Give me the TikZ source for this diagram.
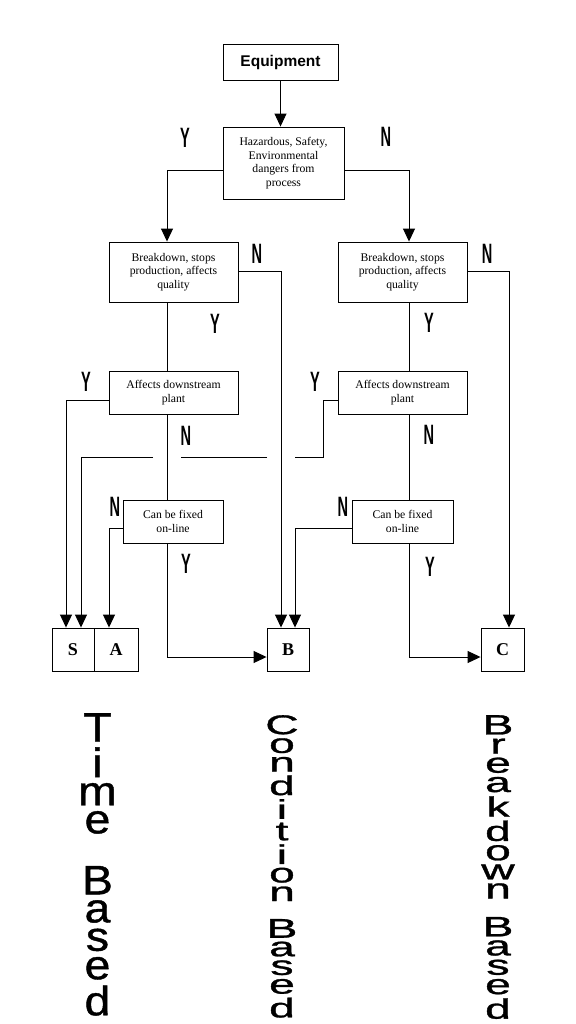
\documentclass[tikz,border=0pt]{standalone}
\usepackage{fontspec}
\usepackage{graphicx}
\setmainfont{Liberation Serif}
\newfontfamily\arialfont{Liberation Sans}
\newfontfamily\stackfont[FakeBold=1]{Liberation Sans}
\usetikzlibrary{arrows.meta}

\newcommand\yn[1]{\scalebox{0.52}[1]{#1}}
% letters one under the other, a fixed gap between them
\newcommand\stacked[1]{\vbox{\baselineskip=0pt\lineskip=6pt\lineskiplimit=0pt
  \halign{\hfil##\hfil\cr#1\crcr}}}

\begin{document}
\begin{tikzpicture}[x=1pt,y=-1pt,
  box/.style={draw,line width=0.9pt,align=center,inner sep=0pt,
    font=\fontsize{11.7}{13.5}\selectfont},
  tag/.style={box,minimum height=43pt,font=\bfseries\fontsize{18}{18}\selectfont},
  arr/.style={line width=1pt,-{Triangle[length=13pt,width=12pt]}},
  link/.style={line width=1pt},
  yn/.style={inner sep=0pt,font=\arialfont\bfseries\fontsize{28}{28}\selectfont},
  caption/.style={inner sep=0pt,anchor=north,font=\stackfont\fontsize{42}{42}\selectfont}]
  \useasboundingbox (0,0) rectangle (575,1024);

  % boxes
  \node[box,minimum width=115pt,minimum height=36pt,
    font=\arialfont\bfseries\fontsize{15.5}{18}\selectfont] (equip) at (280.5,62) {Equipment};
  \node[box,minimum width=121pt,minimum height=72pt] (hazard) at (283.5,163)
    {Hazardous, Safety,\\Environmental\\dangers from\\process};
  \node[box,minimum width=129pt,minimum height=60pt] (stopL) at (173.5,272)
    {Breakdown, stops\\production, affects\\quality};
  \node[box,minimum width=129pt,minimum height=60pt] (stopR) at (402.5,272)
    {Breakdown, stops\\production, affects\\quality};
  \node[box,minimum width=129pt,minimum height=43pt] (downL) at (173.5,392.5)
    {Affects downstream\\plant};
  \node[box,minimum width=129pt,minimum height=43pt] (downR) at (402.5,392.5)
    {Affects downstream\\plant};
  \node[box,minimum width=100pt,minimum height=43pt] (fixL) at (173,521.5)
    {Can be fixed\\on-line};
  \node[box,minimum width=101pt,minimum height=43pt] (fixR) at (402.5,521.5)
    {Can be fixed\\on-line};
  \node[tag,minimum width=42pt] (S) at (73,649.5) {S};
  \node[tag,minimum width=44pt] (A) at (116,649.5) {A};
  \node[tag,minimum width=42pt] (B) at (288,649.5) {B};
  \node[tag,minimum width=43pt] (C) at (502.5,649.5) {C};

  \coordinate (stemL) at (167,0);
  \coordinate (stemR) at (409,0);
  \coordinate (jog) at (323,457);

  % connectors
  \draw[arr] (equip.south) -- (equip.south |- hazard.north);
  \draw[arr] ([yshift=-8pt]hazard.west) -| (stopL.north -| stemL);
  \draw[arr] ([yshift=-8pt]hazard.east) -| (stopR.north -| stemR);
  \draw[arr] ([yshift=1pt]stopL.east) -| ([xshift=-7pt]B.north);
  \draw[arr] ([yshift=1pt]stopR.east) -| ([xshift=6.5pt]C.north);
  \draw[link] (stopL.south -| stemL) -- (downL.north -| stemL);
  \draw[link] (downL.south -| stemL) -- (fixL.north -| stemL);
  \draw[link] (stopR.south -| stemR) -- (downR.north -| stemR);
  \draw[link] (downR.south -| stemR) -- (fixR.north -| stemR);
  \draw[arr] ([yshift=-7.5pt]downL.west) -| ([xshift=-7pt]S.north);
  \draw[link] ([yshift=-7.5pt]downR.west) -| (jog) -- ([xshift=7pt]jog -| B.north);
  \draw[link] ([xshift=-21pt]jog -| B.north) -- ([xshift=14pt]jog -| stemL);
  \draw[arr] ([xshift=-14pt]jog -| stemL) -| ([xshift=8pt]S.north);
  \draw[arr] ([yshift=-6.5pt]fixL.west) -| ([xshift=-7pt]A.north);
  \draw[arr] (fixL.south -| stemL) |- ([yshift=-7.5pt]B.west);
  \draw[arr] ([yshift=-6.5pt]fixR.west) -| ([xshift=7pt]B.north);
  \draw[arr] (fixR.south -| stemR) |- ([yshift=-7.5pt]C.west);

  % Y / N labels
  \node[yn] (yHaz) at (185,137.5) {\yn{Y}};
  \node[yn] (nHaz) at (386,137) {\yn{N}};
  \node[yn] (nStopL) at (257,254) {\yn{N}};
  \node[yn] (yStopL) at (215,324) {\yn{Y}};
  \node[yn] (yDownL) at (86,382) {\yn{Y}};
  \node[yn] (nDownL) at (186,436) {\yn{N}};
  \node[yn] (nFixL) at (115,507) {\yn{N}};
  \node[yn] (yFixL) at (186,564) {\yn{Y}};
  \node[yn] (nStopR) at (487,254) {\yn{N}};
  \node[yn] (yStopR) at (429,323) {\yn{Y}};
  \node[yn] (yDownR) at (315,382) {\yn{Y}};
  \node[yn] (nDownR) at (429,435) {\yn{N}};
  \node[yn] (nFixR) at (343,507) {\yn{N}};
  \node[yn] (yFixR) at (430,567) {\yn{Y}};

  % stacked captions
  \node[caption] (timeBased) at (97.5,713) {\scalebox{1.1}[0.98]{\stacked{%
    T\cr i\cr m\cr e\cr\noalign{\vskip27pt}B\cr a\cr s\cr e\cr d}}};
  \node[caption] (condBased) at (282,715) {\scalebox{1.1}[0.645]{\stacked{%
    C\cr o\cr n\cr d\cr i\cr t\cr i\cr o\cr n\cr\noalign{\vskip22pt}B\cr a\cr s\cr e\cr d}}};
  \node[caption] (brkBased) at (498,715) {\scalebox{1.1}[0.667]{\stacked{%
    B\cr r\cr e\cr a\cr k\cr d\cr o\cr w\cr n\cr\noalign{\vskip22pt}B\cr a\cr s\cr e\cr d}}};
\end{tikzpicture}
\end{document}
